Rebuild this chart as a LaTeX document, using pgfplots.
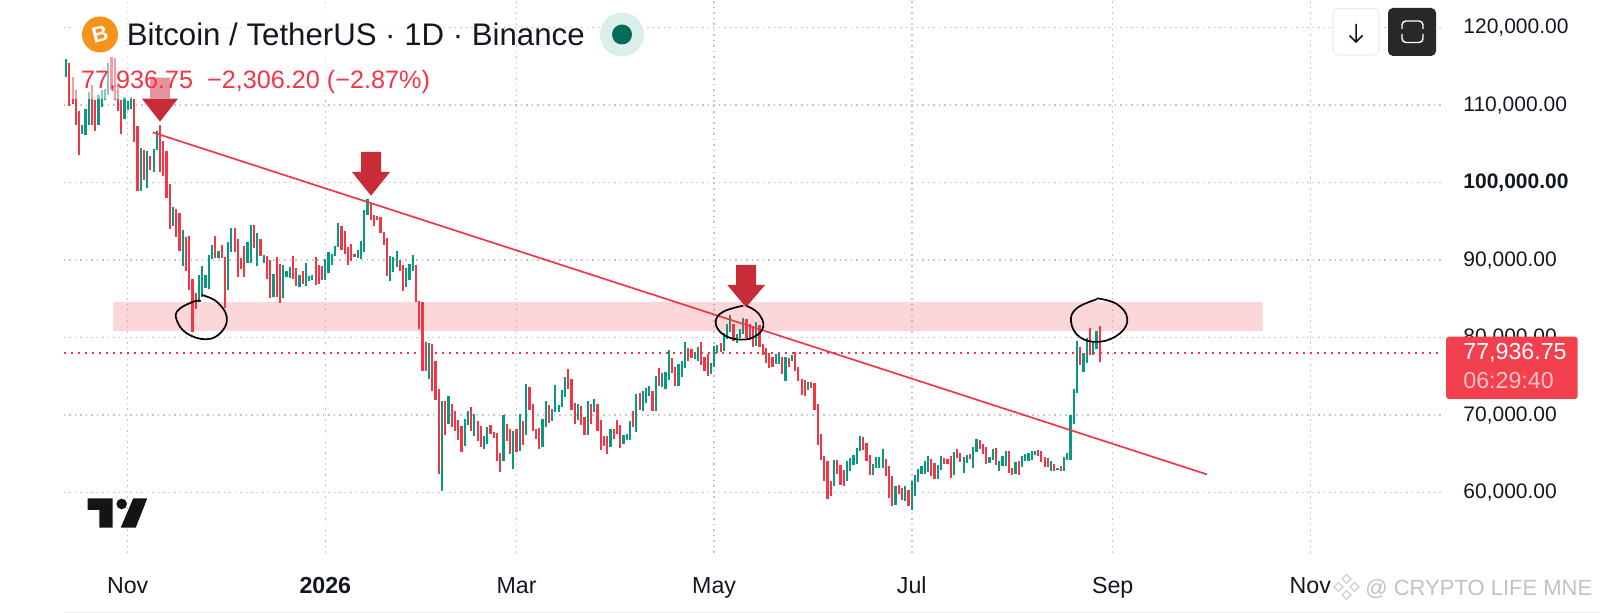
\documentclass[border=0pt]{standalone}
\usepackage{pgfplots}
\usepackage{pgfplotstable}
\usepackage{fontspec}
\setmainfont{Liberation Sans}
\pgfplotsset{compat=1.18}
\definecolor{cr}{HTML}{F23645}
\definecolor{cg}{HTML}{089981}
\definecolor{ax}{HTML}{131722}
\definecolor{gr}{HTML}{C4C4C4}
\definecolor{arrowred}{HTML}{C92C39}
\definecolor{dotg}{HTML}{076B5A}
\definecolor{dotl}{HTML}{DAEEEA}
\definecolor{btc}{HTML}{F7931A}
\pgfplotstableread{
d hi lo
-18 115375 109914
-17 113655 110130
-16 111935 107420
-15 109226 103550
-11 112580 107420
-10 110645 106646
-5 116235 111935
-4 116020 110645
-3 112795 109226
-2 110645 106260
2 110730 105270
3 107290 98950
5 104195 100325
7 103464 101615
10 107420 101314
11 105356 100884
12 104066 98046
13 99809 94004
15 96541 92929
16 96025 91209
18 93015 88629
19 93101 86135
20 87554 80631
21 85705 83641
27 93101 90220
29 91940 90220
30 90435 83770
33 94090 90994
34 92671 87855
35 90220 88801
36 91810 87770
39 94520 91510
41 92671 90521
43 90521 87554
44 90005 85146
46 90349 85275
47 89489 84501
51 90521 87511
52 88930 86694
54 88629 86866
58 90349 86780
59 89360 86866
60 89231 87425
66 94391 91295
67 93789 90736
68 91725 89360
69 92026 89876
70 90736 90435
75 97315 95165
76 95810 94391
77 95681 95165
78 95595 93531
79 93660 91940
80 92800 87941
84 90005 88629
85 89360 86049
89 89360 84630
90 84716 81104
91 84625 75724
92 79379 75724
94 79164 73015
95 76971 71940
96 73316 62394
98 71725 67339
100 71424 68371
101 70521 67855
102 69360 66780
103 68500 65146
106 70994 67941
108 69231 66651
109 68500 65834
112 68715 67554
113 67726 66995
114 67640 63985
115 65060 62566
117 68844 66565
118 68199 64974
120 68199 65189
122 69231 66135
124 73574 70650
125 71424 67855
126 68199 66909
127 68285 65619
130 71295 68930
136 75939 73359
137 74606 70650
138 71510 68844
140 71166 68629
141 69661 67425
143 71381 68844
145 71424 67855
146 69274 65490
147 67296 65920
148 67210 64974
150 68199 66866
151 69360 67554
152 68715 65705
156 70435 68371
158 72800 70650
162 73101 70521
164 76111 73746
168 77401 75380
169 76240 73660
173 78605 77014
174 78476 77315
177 79379 76455
178 77530 75724
179 77874 74950
183 79336 78175
187 81744 79594
191 82346 79981
192 81744 79680
193 81529 78820
195 81572 78734
196 79121 77745
197 78605 76756
198 77960 76111
199 77444 76240
202 77530 75294
204 77401 76154
206 78089 75724
207 76154 74305
208 74649 72585
209 74520 72456
211 74219 73445
212 74090 70650
213 71424 66135
214 67554 64114
215 64716 61405
216 63985 59169
217 61491 59556
219 64200 62394
220 63555 60889
221 62910 60760
227 67081 65404
228 66350 63985
229 64845 62265
234 64329 62050
235 63340 59255
236 62050 58180
238 60975 59814
239 60545 58954
241 60330 58266
248 64329 62050
249 63770 61706
252 64415 63684
253 64329 63684
254 64630 61835
256 65619 64415
257 65060 63856
260 64974 64329
263 66780 65619
264 66264 64931
265 65834 63684
268 65705 63469
272 65361 62480
273 63125 62265
275 64071 62265
281 65490 64630
282 65361 63856
283 64501 63254
284 64415 63254
286 63684 62781
288 63426 62781
294 78820 76455
297 81185 77745
300 81486 76885
}\redT
\pgfplotstableread{
d hi lo
-19 115930 113655
-14 107420 106216
-13 109441 106130
-12 111720 107420
-9 111290 107420
-8 111935 109785
-7 112020 110645
-6 115375 111290
-1 111075 108194
0 110516 109355
1 111075 109484
4 104410 98950
6 104066 99336
8 104324 101400
9 106646 104195
14 96799 94391
17 93875 89231
22 88070 84630
23 89231 85275
24 88070 86350
25 90650 86264
26 91940 90134
28 91209 90220
31 92370 86135
32 94090 91080
37 92370 89575
38 94520 89575
40 93445 89274
42 90650 89575
45 88199 85275
48 89360 85146
49 88586 87855
50 89059 87640
53 88070 86479
55 89575 86694
56 87941 87339
57 88070 87425
61 90091 87425
62 91080 88371
63 90779 89360
64 91810 90521
65 94735 91725
71 91295 90306
72 92456 90134
73 96455 91080
74 97831 95810
81 90521 87339
82 90435 88500
83 91166 89145
86 88930 86565
87 89489 87425
88 90650 88629
93 79250 74649
97 71811 60115
99 72370 68844
104 69489 65920
105 70521 68715
107 70134 67296
110 67296 65619
111 68371 66264
116 70005 63985
119 67855 63039
121 70134 65275
123 74004 67425
128 69489 65834
129 71811 68414
131 70779 69145
132 73875 70349
133 71295 70306
134 73230 70994
135 74864 72284
139 71424 69360
142 71811 67425
144 72069 70349
149 68199 65834
153 67425 66264
154 67554 66780
155 69145 66694
157 72714 67726
159 73101 70521
160 73445 71510
161 73746 72370
163 74950 70521
165 75466 73531
166 75595 73359
167 78390 74520
170 76584 73660
171 76971 74821
172 79379 76111
175 77874 77186
176 78820 77014
180 76670 75294
181 78906 76240
182 79035 77960
184 80626 78261
185 81744 79766
186 82905 80669
188 80454 79250
189 81056 79895
190 82475 80411
194 81959 78906
200 77874 76541
201 78089 76584
203 77444 74305
205 77745 77014
210 74176 73230
218 64200 60760
222 63985 61405
223 64415 62781
224 64759 63469
225 65705 63641
226 67296 65361
230 63684 62265
231 64501 63125
232 64501 63125
233 65619 63125
237 60760 58395
240 60846 58825
242 61405 57750
243 62265 59556
244 62996 61276
245 63426 62394
246 63985 62394
247 64716 62566
250 63555 61749
251 64716 62910
255 65146 62265
258 64501 62480
259 64845 63770
261 65791 63125
262 66909 65146
266 64501 63770
267 65619 64200
269 64071 62781
270 64716 63340
271 65275 63426
274 63856 62351
276 64630 63254
277 64974 63985
278 65060 64071
279 65361 64200
280 65275 64845
285 64071 62695
287 63125 62910
289 64544 62781
290 65060 64114
291 70005 64200
292 73359 68844
293 79551 72800
295 77960 75509
296 79895 76670
298 79465 77745
299 80841 78519
}\greenT
\begin{document}
\begin{tikzpicture}
\useasboundingbox (0,0) rectangle (800pt,306.5pt);
\begin{axis}[
  at={(32pt,30pt)}, anchor=south west,
  scale only axis, width=689pt, height=276.5pt,
  xmin=-19.66, xmax=405.65, ymin=52163, ymax=123564,
  axis line style={draw=none},
  major tick length=0pt,
  xtick={0,61,120,181,242,304,365},
  xticklabels={Nov,\textbf{2026},Mar,May,Jul,Sep,Nov},
  ytick={60000,70000,80000,90000,100000,110000,120000},
  yticklabels={{60,000.00},{70,000.00},{80,000.00},{90,000.00},{\textbf{100,000.00}},{110,000.00},{120,000.00}},
  yticklabel pos=right,
  scaled y ticks=false,
  tick label style={text=ax, inner sep=0pt},
  yticklabel style={font=\fontsize{10.5}{12}\selectfont, anchor=west, xshift=10.5pt, yshift=-0.2pt},
  xticklabel style={font=\fontsize{11.6}{13}\selectfont, anchor=north, yshift=-11.6pt, text height=8.4pt, text depth=0pt},
  grid=major,
  grid style={color=gr, line width=0.75pt, dash pattern=on 0.75pt off 2pt},
  clip=false,
]
\addplot[draw=none, forget plot, error bars/.cd, y dir=minus, y explicit, error mark=none,
  error bar style={line width=1.1pt, color=cr, solid}]
  table[x=d, y=hi, y error expr=\thisrow{hi}-\thisrow{lo}] {\redT};
\addplot[draw=none, forget plot, error bars/.cd, y dir=minus, y explicit, error mark=none,
  error bar style={line width=1.1pt, color=cg, solid}]
  table[x=d, y=hi, y error expr=\thisrow{hi}-\thisrow{lo}] {\greenT};
% resistance band
\addplot[fill=cr, fill opacity=0.2, draw=none, forget plot]
  coordinates {(-4.5,84587)(350.4,84587)(350.4,80846)(-4.5,80846)} --cycle;
% trend line
\addplot[color=cr, line width=0.85pt, forget plot] coordinates {(7.7,106476)(333.1,62311)};
% last price line
\addplot[color=cr, line width=0.9pt, dash pattern=on 0.9pt off 2.6pt, forget plot]
  coordinates {(-19.66,77936.75)(405.65,77936.75)};
\end{axis}
\begin{scope}[x=0.5pt,y=-0.5pt,shift={(0,306.5pt)}]
  % bottom rule
  \draw[color=black!8, line width=0.5pt] (64,612.5) -- (1600,612.5);
  % arrows
  \fill[arrowred] (150,77.7) -- (170,77.7) -- (170,98.3) -- (178.3,98.3) -- (160,121.7) -- (141.7,98.3) -- (150,98.3) -- cycle;
  \fill[arrowred] (361,152) -- (381,152) -- (381,172) -- (390,172) -- (371,195.7) -- (352,172) -- (361,172) -- cycle;
  \fill[arrowred] (736,265) -- (756,265) -- (756,285) -- (765,285) -- (746,307.3) -- (727.3,285) -- (736,285) -- cycle;
  % hand-drawn circles
  \draw[black, line width=0.85pt] plot[smooth, tension=0.7] coordinates {(201.7,295)(216.7,301.7)(226.7,316.7)(221.7,331.7)(206.7,339.3)(186.7,333.3)(176.7,320)(178.3,310)(193.3,301.7)(200.7,301)};
  \draw[black, line width=0.85pt] plot[smooth, tension=0.7] coordinates {(746.7,306)(758.3,313.3)(763.3,326.7)(753.3,337.3)(736.7,339.3)(721.7,333.3)(715.7,321.7)(723.3,311.7)(743.3,305.7)};
  \draw[black, line width=0.85pt] plot[smooth, tension=0.7] coordinates {(1096.7,298.3)(1116.7,304)(1127.3,318.3)(1120,333.3)(1100,341.7)(1080,337.3)(1071,321.7)(1076.7,308.3)(1096.7,299.3)};
  % legend backdrop fade
  \fill[white, opacity=0.5] (71,0) rectangle (440,99.5);
  % header
  \fill[btc] (100,34.5) circle (18);
  \node[white, rotate=14, inner sep=0pt, font=\bfseries\fontsize{11}{12}\selectfont] at (100,34.5) {B};
  \node[anchor=west, inner sep=0pt, text=ax, font=\fontsize{15.6}{17}\selectfont] at (126.5,34.5) {Bitcoin / TetherUS · 1D · Binance};
  \fill[dotl] (622,34.5) circle (22);
  \fill[dotg] (622,34.5) circle (10);
  \node[anchor=west, inner sep=0pt, text=cr, font=\fontsize{12.6}{14}\selectfont] at (80.7,81.5) {77,936.75\ \ −2,306.20 (−2.87\%)};
  % logo
  \fill[black!92] (87.7,498.3) -- (112.7,498.3) -- (112.7,527.7) -- (99.3,527.7) -- (99.3,510) -- (87.7,510) -- cycle;
  \fill[black!92] (121.7,504) circle (5.3);
  \fill[black!92] (133.3,498.3) -- (147.3,498.3) -- (135.7,527.7) -- (120.7,527.7) -- cycle;
  % buttons
  \draw[fill=white, draw=black!7, line width=0.6pt, rounded corners=2.5pt] (1333,8.5) rectangle (1379,55);
  \draw[ax, line width=0.75pt] (1356,24) -- (1356,42) (1349.5,35.5) -- (1356,42) -- (1362.5,35.5);
  \fill[black!84, rounded corners=2.5pt] (1388,8) rectangle (1436,56);
  \draw[white, line width=0.7pt, rounded corners=2pt] (1402,29) -- (1402,21) -- (1423,21) -- (1423,29);
  \draw[white, line width=0.7pt, rounded corners=2pt] (1402,34) -- (1402,42.5) -- (1423,42.5) -- (1423,34);
  % last price tag
  \fill[color=cr!95!white, rounded corners=1.5pt] (1446,336.7) -- (1577.7,336.7) -- (1577.7,399) -- (1446,399) -- cycle;
  \node[anchor=west, inner sep=0pt, text=white, font=\fontsize{11.6}{13}\selectfont] at (1463,353) {77,936.75};
  \node[anchor=west, inner sep=0pt, text=white!70!cr, font=\fontsize{11.6}{13}\selectfont] at (1463,381) {06:29:40};
  % watermark
  \foreach \dx/\dy in {0/-8,-8/0,8/0,0/8}{
    \draw[black!18, line width=0.6pt] ({1346.5+\dx},{587+\dy-4.5}) -- ({1346.5+\dx+4.5},{587+\dy}) -- ({1346.5+\dx},{587+\dy+4.5}) -- ({1346.5+\dx-4.5},{587+\dy}) -- cycle;
  }
  \node[anchor=west, inner sep=0pt, text=black!24, font=\fontsize{11}{13}\selectfont] at (1365,589) {@ CRYPTO LIFE MNE};
\end{scope}
\end{tikzpicture}
\end{document}
